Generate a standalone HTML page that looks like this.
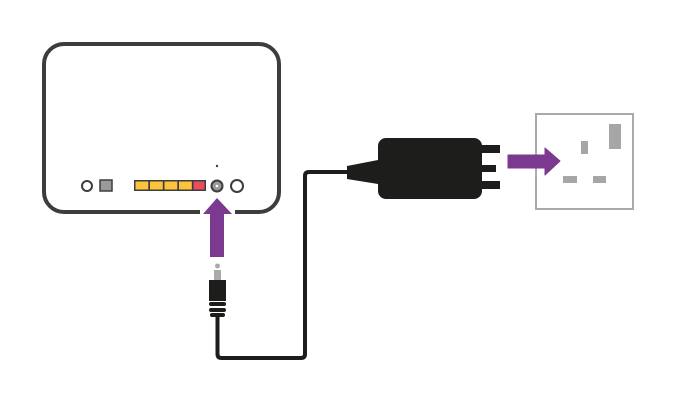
<!DOCTYPE html>
<html><head><meta charset="utf-8"><style>html,body{margin:0;padding:0;background:#fff}svg{display:block}</style></head>
<body>
<svg width="675" height="401" viewBox="0 0 675 401" xmlns="http://www.w3.org/2000/svg">
<rect x="0" y="0" width="675" height="401" fill="#fff"/>
<!-- router -->
<rect x="44" y="44" width="235" height="168" rx="20" ry="20" fill="none" stroke="#3d3d3d" stroke-width="4"/>
<rect x="200" y="205" width="35" height="12" fill="#fff"/>
<circle cx="87" cy="186" r="5" fill="#fff" stroke="#3d3d3d" stroke-width="2"/>
<rect x="100" y="180" width="12" height="11" fill="#999" stroke="#3d3d3d" stroke-width="1.5"/>
<rect x="134" y="180" width="72" height="11" fill="#3d3d3d"/>
<rect x="135.5" y="181.5" width="12.8" height="8" fill="#fcc33c"/>
<rect x="150" y="181.5" width="12.8" height="8" fill="#fcc33c"/>
<rect x="164.5" y="181.5" width="12.8" height="8" fill="#fcc33c"/>
<rect x="179" y="181.5" width="12.8" height="8" fill="#fcc33c"/>
<rect x="193.5" y="181.5" width="11" height="8" fill="#e94c5a"/>
<circle cx="217" cy="186" r="5.5" fill="#999" stroke="#3d3d3d" stroke-width="2"/>
<circle cx="217" cy="186" r="1.3" fill="#fff"/>
<circle cx="237" cy="186" r="6" fill="#fff" stroke="#3d3d3d" stroke-width="2"/>
<circle cx="217" cy="166" r="1.2" fill="#3d3d3d"/>
<!-- arrow up -->
<polygon points="217,198 232,214 224,214 224,257 210,257 210,214 203,214" fill="#7b3a8f"/>
<!-- plug -->
<circle cx="217.5" cy="266" r="2.5" fill="#aaa"/>
<rect x="214" y="270" width="7" height="11" fill="#aaa"/>
<rect x="209" y="280" width="17" height="21" fill="#1d1d1b"/>
<rect x="209" y="302" width="17" height="4" rx="2" fill="#1d1d1b"/>
<rect x="209" y="308" width="17" height="4" rx="2" fill="#1d1d1b"/>
<rect x="210" y="313" width="15" height="4" rx="2" fill="#1d1d1b"/>
<path d="M217.5 316 V354 Q217.5 358 221.5 358 H301 Q305 358 305 354 V176 Q305 172 309 172 H350" fill="none" stroke="#1d1d1b" stroke-width="4"/>
<!-- adapter -->
<polygon points="347,166 378,160 378,184 347,179" fill="#1d1d1b"/>
<rect x="378" y="138" width="104" height="61" rx="8" fill="#1d1d1b"/>
<rect x="478" y="145" width="22" height="8" fill="#1d1d1b"/>
<rect x="478" y="165" width="18" height="7" fill="#1d1d1b"/>
<rect x="478" y="181" width="22" height="8" fill="#1d1d1b"/>
<!-- socket -->
<rect x="536" y="114" width="97" height="95" fill="#fff" stroke="#aaa" stroke-width="2"/>
<rect x="609" y="124" width="12" height="25" fill="#a6a6a6"/>
<rect x="581" y="141" width="7" height="13" fill="#a6a6a6"/>
<rect x="563" y="176" width="14" height="7" fill="#a6a6a6"/>
<rect x="593" y="176" width="13" height="7" fill="#a6a6a6"/>
<!-- arrow right -->
<polygon points="508,155 545,155 545,148 560,161 545,175 545,168 508,168" fill="#7b3a8f" stroke="#7b3a8f" stroke-width="1" stroke-linejoin="round"/>
</svg>
</body></html>
